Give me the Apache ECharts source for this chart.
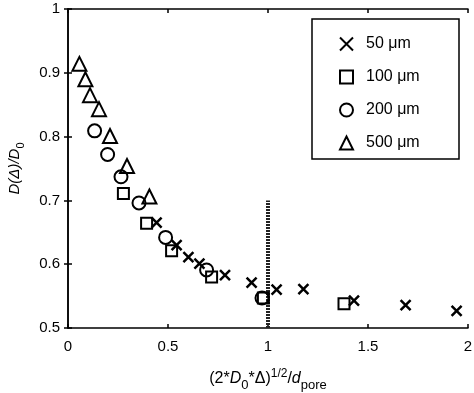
<!DOCTYPE html>
<html><head><meta charset="utf-8">
<script src="https://cdn.jsdelivr.net/npm/echarts@6/dist/echarts.min.js"></script>
<style>html,body{margin:0;padding:0;background:#fff}#c{width:474px;height:393px}</style>
</head><body><div id="c"></div>
<script>
// Data
const x50  = [0.443, 0.543, 0.602, 0.657, 0.785, 0.918, 1.043, 1.177, 1.43, 1.688, 1.943];
const y50  = [0.665, 0.630, 0.611, 0.601, 0.583, 0.571, 0.560, 0.561, 0.543, 0.536, 0.527];
const x100 = [0.277, 0.393, 0.518, 0.718, 0.977, 1.38];
const y100 = [0.711, 0.664, 0.621, 0.580, 0.547, 0.538];
const x200 = [0.133, 0.198, 0.265, 0.355, 0.488, 0.693, 0.970];
const y200 = [0.809, 0.772, 0.737, 0.696, 0.642, 0.591, 0.547];
const x500 = [0.057, 0.087, 0.110, 0.155, 0.210, 0.295, 0.407];
const y500 = [0.914, 0.890, 0.865, 0.843, 0.801, 0.754, 0.706];
const seriesNames = ['50 \u03bcm', '100 \u03bcm', '200 \u03bcm', '500 \u03bcm'];
const refLineX = [1, 1];
const refLineY = [0.5, 0.7];
const xTicks = ['0', '0.5', '1', '1.5', '2'];
const yTicks = ['0.5', '0.6', '0.7', '0.8', '0.9', '1'];

const zip = (a, b) => a.map((v, i) => [v, b[i]]);
const font = 'Liberation Sans, Arial, sans-serif';
const mk = (name, xs, ys, symbol, size, bw) => ({
  name, type: 'scatter', data: zip(xs, ys), symbol, symbolSize: size,
  itemStyle: { color: 'transparent', borderColor: '#000', borderWidth: bw, opacity: 1 },
  emphasis: { disabled: true }, z: 3
});

const chart = echarts.init(document.getElementById('c'), null, { renderer: 'canvas' });
const axisCommon = {
  axisLine: { show: true, lineStyle: { color: '#000', width: 1.5 } },
  axisTick: { show: true, inside: true, length: 4, lineStyle: { color: '#000', width: 1.5 } },
  splitLine: { show: false }
};
chart.setOption({
  animation: false,
  backgroundColor: '#fff',
  grid: { left: 68, right: 6, top: 9, bottom: 65, show: false, containLabel: false, outerBoundsMode: 'none' },
  xAxis: [
    Object.assign({ type: 'value', min: 0, max: 2, interval: 0.5, position: 'bottom',
      axisLabel: { color: '#000', fontSize: 15, fontFamily: font, margin: 11,
        formatter: v => xTicks[Math.round(v / 0.5)] },
      name: '{n|(2*}{i|D}{sub|0}{n|*\u0394)}{sup|1/2}{n|/}{i|d}{sub|pore}',
      nameLocation: 'middle', nameGap: 38,
      nameTextStyle: { rich: {
        n: { fontSize: 16, fontFamily: font, color: '#000' },
        i: { fontSize: 16, fontFamily: font, fontStyle: 'italic', color: '#000' },
        sub: { fontSize: 13, fontFamily: font, color: '#000', padding: [13, 0, 0, 0] },
        sup: { fontSize: 12, fontFamily: font, color: '#000', padding: [0, 0, 10, 0] }
      } }
    }, axisCommon),
    Object.assign({ type: 'value', min: 0, max: 2, interval: 0.5, position: 'top',
      axisLabel: { show: false } }, axisCommon)
  ],
  yAxis: [
    Object.assign({ type: 'value', min: 0.5, max: 1, interval: 0.1, position: 'left',
      axisLabel: { color: '#000', fontSize: 15, fontFamily: font, margin: 8,
        formatter: v => yTicks[Math.round((v - 0.5) / 0.1)] },
      name: '{i|D}{n|(\u0394)/}{i|D}{sub|0}',
      nameLocation: 'middle', nameGap: 42, nameRotate: 90,
      nameTextStyle: { rich: {
        n: { fontSize: 15, fontFamily: font, fontStyle: 'italic', color: '#000' },
        i: { fontSize: 15, fontFamily: font, fontStyle: 'italic', color: '#000' },
        sub: { fontSize: 11, fontFamily: font, color: '#000', padding: [12, 0, 0, 0] }
      } }
    }, axisCommon),
    Object.assign({ type: 'value', min: 0.5, max: 1, interval: 0.1, position: 'right',
      axisLabel: { show: false } }, axisCommon)
  ],
  legend: {
    data: seriesNames, orient: 'vertical', left: 334, top: 31,
    itemWidth: 13, itemHeight: 13, itemGap: 17,
    textStyle: { color: '#000', fontSize: 16, fontFamily: font, padding: [0, 0, 0, 8] },
    selectedMode: false
  },
  graphic: [{ type: 'rect', shape: { x: 312, y: 19, width: 147, height: 140 },
    style: { fill: '#fff', stroke: '#000', lineWidth: 1.5 }, z: 0, silent: true }],
  series: [
    mk(seriesNames[0], x50, y50, 'path://M0,0L10,10M10,0L0,10', 10, 2.5),
    mk(seriesNames[1], x100, y100, 'rect', 11, 2),
    mk(seriesNames[2], x200, y200, 'circle', 13, 2),
    mk(seriesNames[3], x500, y500, 'triangle', 14, 2),
    { name: 'ref', type: 'line', data: zip(refLineX, refLineY), symbol: 'none',
      lineStyle: { color: '#222', width: 4, type: [2, 1] }, z: 2, emphasis: { disabled: true } }
  ]
});
</script></body></html>
